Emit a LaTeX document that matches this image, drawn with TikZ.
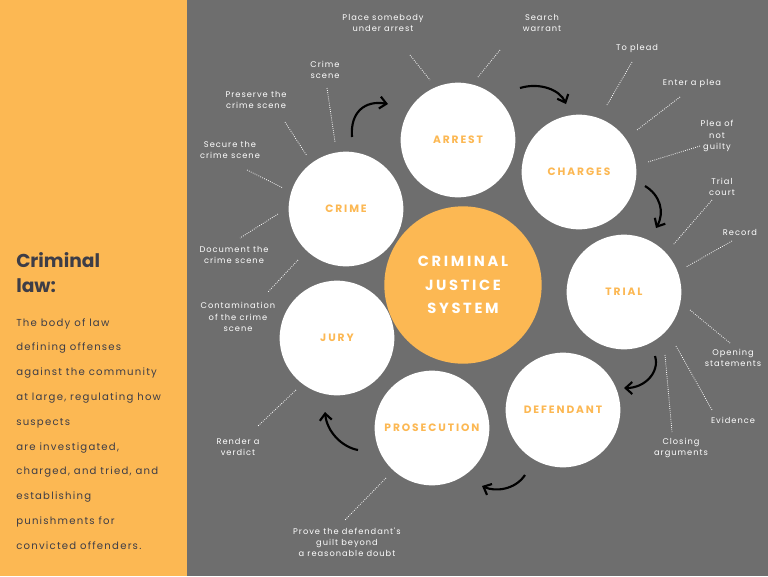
\documentclass[tikz,border=0pt]{standalone}
\usepackage{fontspec}
\setmainfont{Poppins}
\newfontfamily\myspaced[LetterSpace=12]{Poppins}
\newfontfamily\myspacedb[LetterSpace=18]{Poppins}
\usetikzlibrary{arrows.meta}
\definecolor{org}{HTML}{FCB853}
\definecolor{gry}{HTML}{6E6E6E}
\definecolor{ink}{HTML}{3D3D47}
\tikzset{
  circ/.style={circle,fill=white,minimum size=86pt,inner sep=0pt,font=\myspacedb\bfseries\fontsize{8}{9}\selectfont,text=org},
  lbl/.style={text=white,align=center,font=\myspaced\fontsize{6.2}{8.4}\selectfont,inner sep=1pt},
  lead/.style={white,densely dotted,line width=0.6pt},
  arr/.style={black,line width=1.6pt,-{Straight Barb[length=5pt,width=9pt]}},
}
\begin{document}
\begin{tikzpicture}[x=0.75pt,y=-0.75pt]
\useasboundingbox (0,0) rectangle (768,576);
\fill[gry] (0,0) rectangle (768,576);
\fill[org] (0,0) rectangle (187,576);
\node[anchor=north west,align=left,text=ink,inner sep=0pt,font=\bfseries\fontsize{14}{19}\selectfont] (title) at (16,252) {Criminal\\law:};
\node[anchor=north west,align=left,text=ink,inner sep=0pt,font=\myspaced\fontsize{7.6}{18.6}\selectfont] (body) at (16,318) {The body of law\\defining offenses\\against the community\\at large, regulating how\\suspects\\are investigated,\\charged, and tried, and\\establishing\\punishments for\\convicted offenders.};
\node[circ] (arrest) at (458,140) {ARREST};
\node[circ] (charges) at (579,172) {CHARGES};
\node[circ] (trial) at (624,292) {TRIAL};
\node[circ] (def) at (563,410) {DEFENDANT};
\node[circ] (pros) at (432,428) {PROSECUTION};
\node[circ] (jury) at (337,338) {JURY};
\node[circ] (crime) at (346,209) {CRIME};
\node[circle,fill=org,minimum size=118pt,text=white,align=center,font=\myspacedb\bfseries\fontsize{11}{17.5}\selectfont] (cjs) at (463,285) {CRIMINAL\\JUSTICE\\SYSTEM};
\node[lbl] (l1) at (383,23) {Place somebody\\under arrest};
\node[lbl] (l2) at (542,23) {Search\\warrant};
\node[lbl] (l3) at (637,49) {To plead};
\node[lbl] (l4) at (692,84) {Enter a plea};
\node[lbl] (l5) at (717,136) {Plea of\\not\\guilty};
\node[lbl] (l6) at (722,187) {Trial\\court};
\node[lbl] (l7) at (740,232) {Record};
\node[lbl] (l8) at (733,358) {Opening\\statements};
\node[lbl] (l9) at (733,420) {Evidence};
\node[lbl] (l10) at (681,448) {Closing\\arguments};
\node[lbl] (l11) at (325,70) {Crime\\scene};
\node[lbl] (l12) at (256,100) {Preserve the\\crime scene};
\node[lbl] (l13) at (230,150) {Secure the\\crime scene};
\node[lbl] (l14) at (234,255) {Document the\\crime scene};
\node[lbl] (l15) at (238,317) {Contamination\\of the crime\\scene};
\node[lbl] (l16) at (238,447) {Render a\\verdict};
\node[lbl] (l17) at (347,542) {Prove the defendant's\\guilt beyond\\a reasonable doubt};
\coordinate (e1) at (430,80); \draw[lead] (410,55) -- (e1);
\coordinate (e2) at (478,77); \draw[lead] (500,50) -- (e2);
\coordinate (e3) at (607,105); \draw[lead] (632,62) -- (e3);
\coordinate (e4) at (637,130); \draw[lead] (680,97) -- (e4);
\coordinate (e5) at (648,162); \draw[lead] (700,146) -- (e5);
\coordinate (e6) at (673,245); \draw[lead] (712,200) -- (e6);
\coordinate (e7) at (686,267); \draw[lead] (732,241) -- (e7);
\coordinate (e8) at (690,310); \draw[lead] (e8) -- (730,343);
\coordinate (e9) at (676,346); \draw[lead] (e9) -- (712,410);
\coordinate (e10) at (665,355); \draw[lead] (e10) -- (672,432);
\coordinate (e11) at (335,142); \draw[lead] (327,88) -- (e11);
\coordinate (e12) at (307,156); \draw[lead] (285,122) -- (e12);
\coordinate (e13) at (283,188); \draw[lead] (247,170) -- (e13);
\coordinate (e14) at (278,214); \draw[lead] (e14) -- (240,238);
\coordinate (e15) at (298,260); \draw[lead] (e15) -- (268,292);
\coordinate (e16) at (296,390); \draw[lead] (e16) -- (258,426);
\coordinate (e17) at (386,478); \draw[lead] (e17) -- (345,520);
\draw[arr] (352,137) .. controls (350,112) and (365,100) .. (388,104);
\draw[arr] (520,88) .. controls (540,82) and (560,90) .. (566,104);
\draw[arr] (645,186) .. controls (660,195) and (665,212) .. (656,228);
\draw[arr] (655,356) .. controls (660,372) and (645,388) .. (624,388);
\draw[arr] (525,475) .. controls (515,490) and (495,492) .. (482,486);
\draw[arr] (358,450) .. controls (342,447) and (327,432) .. (325,412);
\end{tikzpicture}
\end{document}
